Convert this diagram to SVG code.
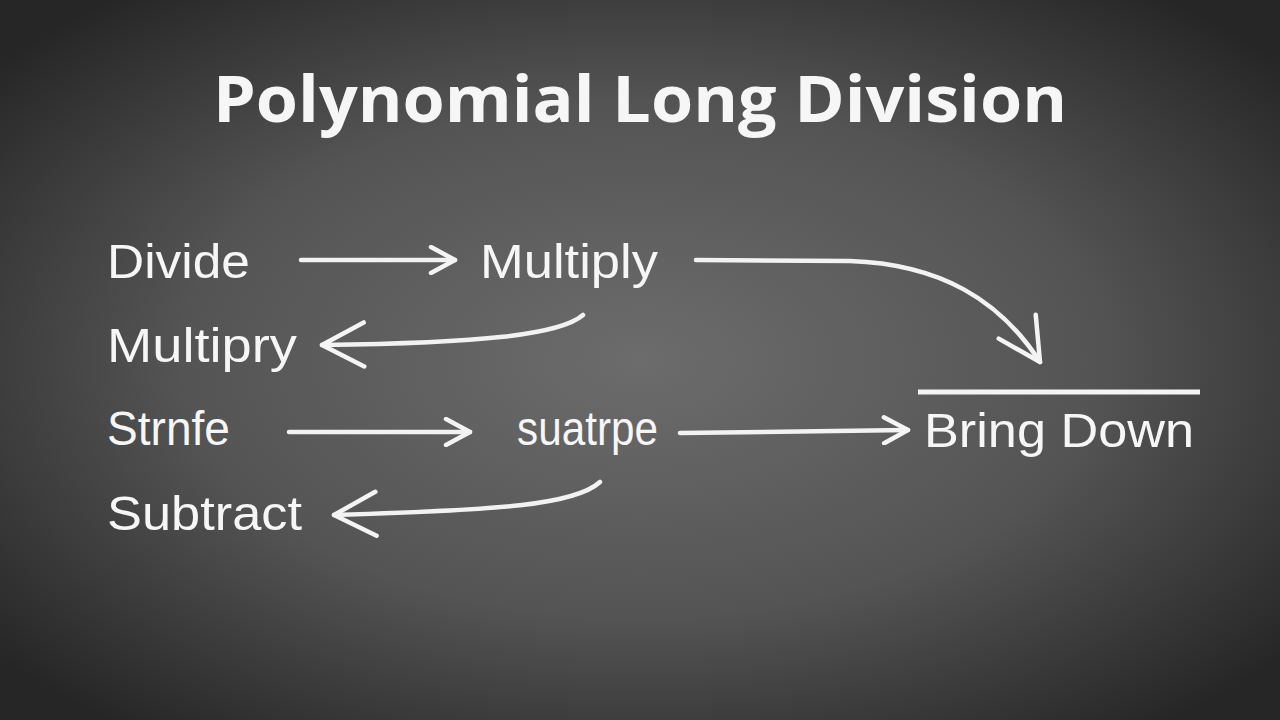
<svg xmlns="http://www.w3.org/2000/svg" width="1280" height="720" viewBox="0 0 1280 720">
<defs>
<radialGradient id="bg" cx="0.5" cy="0.5" r="0.65">
<stop offset="0" stop-color="#6c6c6c"/>
<stop offset="0.55" stop-color="#545454"/>
<stop offset="1" stop-color="#262626"/>
</radialGradient>
<marker id="head" viewBox="0 0 30 30" refX="27" refY="15" markerWidth="30" markerHeight="30" markerUnits="userSpaceOnUse" orient="auto">
<path d="M3,2 L27,15 L3,28" fill="none" stroke="#f4f4f4" stroke-width="4.5" stroke-linecap="round" stroke-linejoin="round"/>
</marker>
<marker id="headL" viewBox="0 0 50 50" refX="47" refY="25" markerWidth="50" markerHeight="50" markerUnits="userSpaceOnUse" orient="auto">
<path d="M5,3 L47,25 L5,47" fill="none" stroke="#f4f4f4" stroke-width="4.5" stroke-linecap="round" stroke-linejoin="round"/>
</marker>
</defs>
<style>
.t{fill:#f6f6f6;}
.title{font-family:"Open Sans","Liberation Sans",sans-serif;font-weight:bold;font-size:65px;}
.lbl{font-family:"Liberation Sans",Arial,sans-serif;font-size:49px;}
.c{fill:none;stroke:#f2f2f2;stroke-width:4.5;stroke-linecap:round;}
</style>
<rect width="1280" height="720" fill="url(#bg)"/>
<text class="t title" x="640" y="122" text-anchor="middle" textLength="854" lengthAdjust="spacingAndGlyphs">Polynomial Long Division</text>
<g id="n-divide"><text class="t lbl" x="107" y="278" textLength="143" lengthAdjust="spacingAndGlyphs">Divide</text></g>
<g id="n-multiply"><text class="t lbl" x="480" y="278" textLength="178" lengthAdjust="spacingAndGlyphs">Multiply</text></g>
<g id="n-multipry"><text class="t lbl" x="107" y="362" textLength="190" lengthAdjust="spacingAndGlyphs">Multipry</text></g>
<g id="n-strnfe"><text class="t lbl" x="107" y="445" textLength="123" lengthAdjust="spacingAndGlyphs">Strnfe</text></g>
<g id="n-suatrpe"><text class="t lbl" x="517" y="445" textLength="141" lengthAdjust="spacingAndGlyphs">suatrpe</text></g>
<g id="n-bringdown">
<line x1="918" y1="392" x2="1200" y2="392" stroke="#f4f4f4" stroke-width="5"/>
<text class="t lbl" x="924" y="447" textLength="270" lengthAdjust="spacingAndGlyphs">Bring Down</text>
</g>
<g id="n-subtract"><text class="t lbl" x="107" y="530" textLength="195" lengthAdjust="spacingAndGlyphs">Subtract</text></g>
<g id="connectors">
<path class="c" d="M301,260 L455,260" marker-end="url(#head)"/>
<path class="c" d="M696,260 L850,261 C940,264 1000,300 1040,362" marker-end="url(#headL)"/>
<path class="c" d="M583,315 C560,335 480,343 322,345" marker-end="url(#headL)"/>
<path class="c" d="M289,432 L470,432" marker-end="url(#head)"/>
<path class="c" d="M680,433 L908,430" marker-end="url(#head)"/>
<path class="c" d="M600,482 C575,505 500,510 334,515" marker-end="url(#headL)"/>
</g>
</svg>
